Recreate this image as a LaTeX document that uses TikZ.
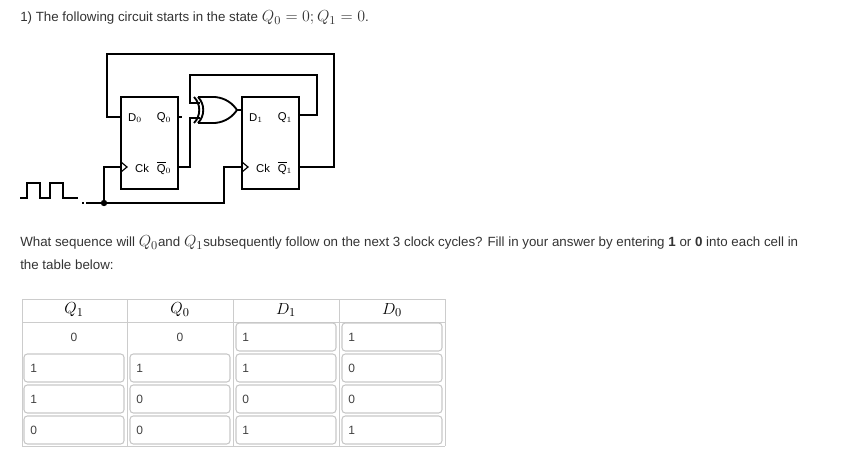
\documentclass[tikz,border=0pt]{standalone}
\usepackage{fontspec}
\setmainfont{Liberation Sans}
\begin{document}
\begin{tikzpicture}[x=0.75pt,y=-0.75pt,
  wire/.style={line width=1.4pt},
  txt/.style={font=\fontsize{10}{12}\selectfont,text=black!80,anchor=west,inner sep=0},
  pin/.style={font=\fontsize{8.5}{9}\selectfont,inner sep=0},
  cell/.style={draw=black!20,line width=0.6pt},
  inbox/.style={draw=black!22,line width=0.8pt,rounded corners=2.5pt},
  val/.style={font=\fontsize{9}{11}\selectfont,text=black!75,inner sep=0}]
\useasboundingbox (0,0) rectangle (867,463);
\newcommand{\bm}[1]{{\fontsize{12.5}{14}\selectfont$#1$}}
% title
\node[txt] (title) at (20,18) {1) The following circuit starts in the state \bm{Q_0=0;Q_1=0}.};
% flip-flops
\draw[wire] (121,97) rectangle (178,189);
\draw[wire] (242,97) rectangle (299,189);
\node[pin] (d0) at (135,118) {D$_0$};
\node[pin] (q0) at (164,118) {Q$_0$};
\node[pin] (ck0) at (142,168) {Ck};
\node[pin] (qb0) at (164,168) {$\overline{\mbox{Q}}$$_0$};
\node[pin] (d1) at (256,118) {D$_1$};
\node[pin] (q1) at (285,118) {Q$_1$};
\node[pin] (ck1) at (263,168) {Ck};
\node[pin] (qb1) at (285,168) {$\overline{\mbox{Q}}$$_1$};
\draw[line width=0.9pt] (121,162)--(127,167)--(121,172);
\draw[line width=0.9pt] (242,162)--(248,167)--(242,172);
% XOR
\draw[wire] (198,97) .. controls (205,104) and (205,116) .. (198,123);
\draw[wire] (194,97) .. controls (201,104) and (201,116) .. (194,123);
\draw[wire] (198,97) -- (215,97) .. controls (226,98) and (233,104) .. (237,110)
  .. controls (233,116) and (226,122) .. (215,123) -- (198,123);
\draw[wire] (237,110) -- (242,110);
% wires
\draw[wire] (121,117) -- (107,117) -- (107,54) -- (334,54) -- (334,167) -- (299,167);
\draw[wire] (299,115) -- (317,115) -- (317,75) -- (190,75) -- (190,103) -- (200,103);
\draw[wire] (178,167) -- (190,167) -- (190,118) -- (200,118);
\draw[wire] (178,117) -- (182,117);
\draw[wire] (86,203) -- (224,203) -- (224,167) -- (242,167);
\draw[wire] (104,203) -- (104,167) -- (121,167);
\fill (104,203) circle (3.2);
\draw[line width=1pt] (82,203) -- (84,203);
% square wave
\draw[line width=1pt] (20,198) -- (27,198) -- (27,183) -- (40,183) -- (40,198) -- (50,198) -- (50,183) -- (63,183) -- (63,198) -- (78,198);
% question
\node[txt] (qa) at (20,243) {What sequence will \bm{Q_0}and \bm{Q_1}subsequently follow on the next 3 clock cycles? Fill in your answer by entering \textbf{1} or \textbf{0} into each cell in};
\node[txt] (qb) at (20,265) {the table below:};
% table
\foreach \x in {22,127,233,339,445} \draw[cell] (\x,299) -- (\x,446);
\foreach \y in {299,322,446} \draw[cell] (22,\y) -- (445,\y);
\node (h1) at (74,310) {\bm{Q_1}};
\node (h2) at (180,310) {\bm{Q_0}};
\node (h3) at (286,310) {\bm{D_1}};
\node (h4) at (392,310) {\bm{D_0}};
\node[val] (r00) at (74,337) {0};
\node[val] (r01) at (180,337) {0};
\foreach \row/\vals in {0/{x,x,1,1},1/{1,1,1,0},2/{1,0,0,0},3/{0,0,1,1}}{
  \foreach \v [count=\c from 0] in \vals {
    \if\v x\else
      \pgfmathsetmacro\xl{22+106*\c+2}
      \pgfmathsetmacro\yt{323+31*\row}
      \draw[inbox] (\xl,\yt) rectangle ++(100,28);
      \node[val,anchor=west] at (\xl+6,\yt+14) {\v};
    \fi
  }
}
\end{tikzpicture}
\end{document}
